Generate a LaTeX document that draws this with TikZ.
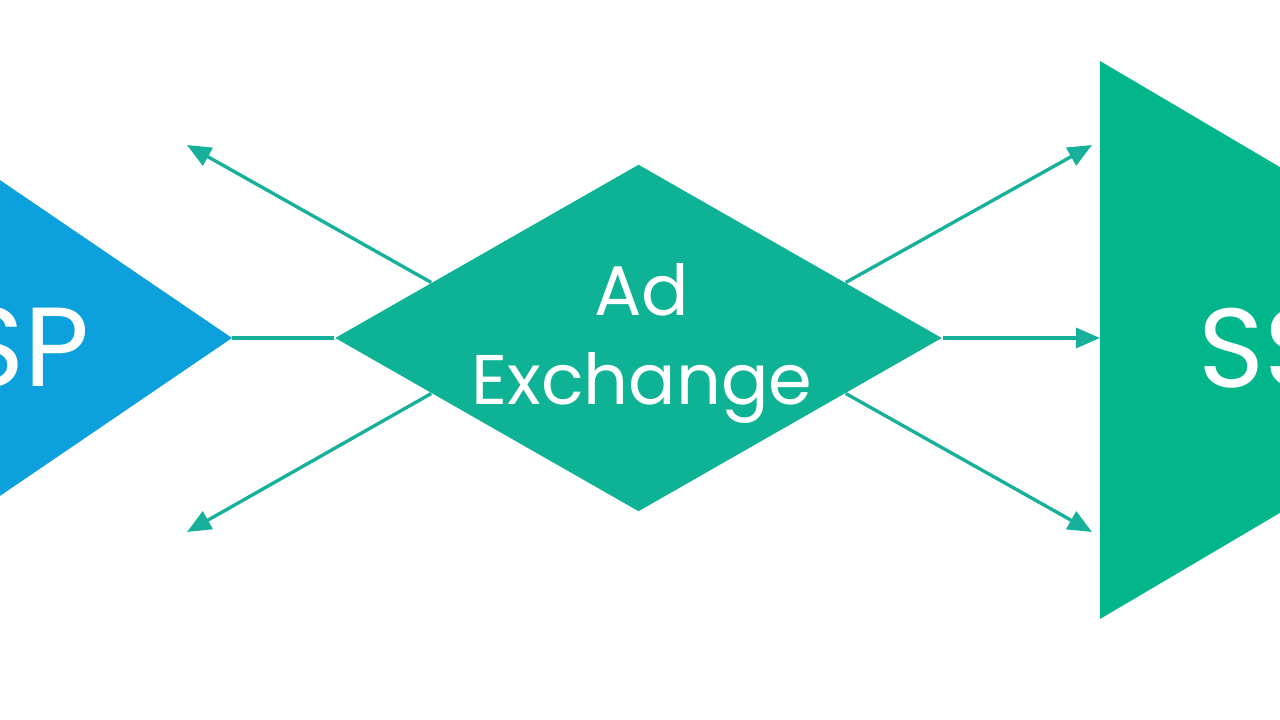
\documentclass[tikz,border=0pt]{standalone}
\usepackage{fontspec}
\setmainfont{Poppins}
\usetikzlibrary{arrows.meta,shapes.geometric}

\definecolor{dspblue}{RGB}{12,160,220}
\definecolor{xchgteal}{RGB}{14,178,148}
\definecolor{sspgreen}{RGB}{0,182,138}
\definecolor{linkteal}{RGB}{22,176,155}

\begin{document}
\begin{tikzpicture}[
		link/.style={draw=linkteal, line width=0.95pt},
		arrow/.style={link, -{Triangle[length=2.4mm, width=2mm]}},
		xchg/.style={diamond, fill=xchgteal, inner sep=0pt, minimum width=6.07cm, minimum height=3.47cm},
		lbl/.style={text=white, inner sep=0pt, font=\fontsize{32}{38}\selectfont},
	]
		\useasboundingbox (0,0) rectangle (12.8,-7.2);
		\clip (0,0) rectangle (12.8,-7.2);
		\fill[white] (0,0) rectangle (12.8,-7.2);
		
		% side shapes
		\fill[dspblue] (2.32,-3.38) -- (-2,-0.44) -- (-2,-6.32) -- cycle;
		\fill[sspgreen] (11.00,-0.61) -- (15.73,-3.40) -- (11.00,-6.19) -- cycle;
		\coordinate (dsptip) at (2.32,-3.38);
		\coordinate (sspw) at (11.00,-3.38);
		\node (dsp) [lbl, anchor=base east] at (0.90,-3.87) {DSP};
		\node (ssp) [lbl, anchor=base west] at (11.98,-3.88) {SSP};
		
		\node (ax) [xchg] at (6.385,-3.38) {};
		\node (axl) [text=white, align=center, inner sep=0pt, anchor=base, font=\fontsize{20}{25.6}\selectfont] at (6.42,-4.05) {Ad\\Exchange};
		
		\coordinate (ul) at (1.87,-1.45);
		\coordinate (ll) at (1.87,-5.32);
		\coordinate (ur) at (10.92,-1.45);
		\coordinate (lr) at (10.92,-5.32);
		
		\draw[link] (dsptip) -- (ax.west);
		\draw[arrow] (ax.165) -- (ul);
		\draw[arrow] (ax.195) -- (ll);
		\draw[arrow] (ax.15) -- (ur);
		\draw[arrow] (ax.345) -- (lr);
		\draw[arrow] (ax.east) -- (sspw);
	\end{tikzpicture}
\end{document}
